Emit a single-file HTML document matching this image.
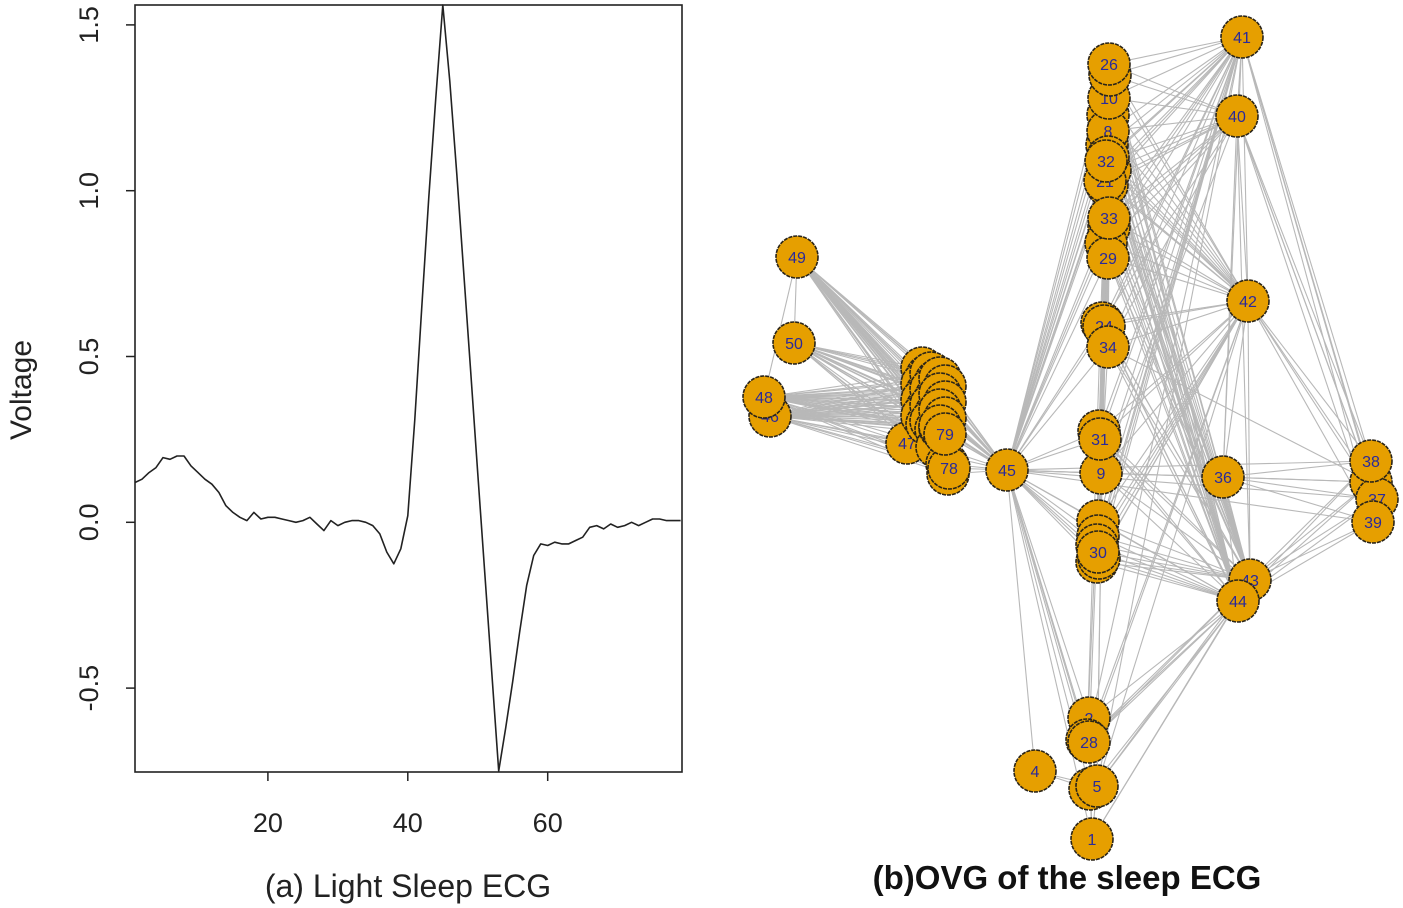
<!DOCTYPE html>
<html><head><meta charset="utf-8"><style>
html,body{margin:0;padding:0;background:#fff;}
svg{display:block;font-family:"Liberation Sans",Arial,sans-serif;}
</style></head><body>
<svg id="fig" width="1403" height="908" viewBox="0 0 1403 908">
<g id="left"></g>
<g id="right"></g>
<text x="408" y="897" font-size="32" text-anchor="middle" fill="#222">(a) Light Sleep ECG</text>
<text x="1067" y="889" font-size="33" font-weight="bold" text-anchor="middle" fill="#111">(b)OVG of the sleep ECG</text>
</svg>
<script>
const ecgVoltage = [0.12,0.13,0.15,0.165,0.195,0.19,0.20,0.20,0.17,0.15,0.13,0.115,0.09,0.05,0.03,0.015,0.005,0.03,0.01,0.015,0.015,0.01,0.005,0.0,0.005,0.015,-0.005,-0.025,0.005,-0.01,0.0,0.005,0.005,0.0,-0.01,-0.035,-0.09,-0.125,-0.08,0.02,0.31,0.65,0.98,1.28,1.56,1.33,1.05,0.75,0.45,0.15,-0.15,-0.45,-0.75,-0.62,-0.48,-0.33,-0.19,-0.10,-0.065,-0.07,-0.06,-0.065,-0.065,-0.055,-0.045,-0.015,-0.01,-0.02,-0.005,-0.015,-0.01,0.0,-0.01,0.0,0.01,0.01,0.005,0.005,0.005];
const xTicks = [20,40,60];
const yTicks = [-0.5,0,0.5,1.0,1.5];
const yTickLabels = ["-0.5","0.0","0.5","1.0","1.5"];

const NS="http://www.w3.org/2000/svg";
function mk(tag,attrs,parent){const e=document.createElementNS(NS,tag);for(const k in attrs)e.setAttribute(k,attrs[k]);parent.appendChild(e);return e;}
const L=document.getElementById('left');
const X0=135,X1=682,Y0=5,Y1=772;
const xd=[1,79.2], yd=[-0.753,1.56];
const sx=v=>X0+(v-xd[0])/(xd[1]-xd[0])*(X1-X0);
const sy=v=>Y1-(v-yd[0])/(yd[1]-yd[0])*(Y1-Y0);

let d="";
ecgVoltage.forEach((v,i)=>{d+=(i?"L":"M")+sx(i+1).toFixed(1)+","+sy(v).toFixed(1);});
const line=mk('path',{d:d,fill:'none',stroke:'#222','stroke-width':1.6,'stroke-linejoin':'round'},L);


const box=mk('rect',{x:X0,y:Y0,width:X1-X0,height:Y1-Y0,fill:'none',stroke:'#222','stroke-width':1.6},L);


xTicks.forEach(t=>{
  const x=sx(t);
  const tk=mk('line',{x1:x,x2:x,y1:Y1,y2:Y1+9,stroke:'#222','stroke-width':1.5},L);
  
  
  const lb=mk('text',{x:x,y:832,'font-size':27,'text-anchor':'middle',fill:'#222'},L);
  lb.textContent=t;
  
  
});
yTicks.forEach((t,i)=>{
  const y=sy(t);
  const tk=mk('line',{x1:X0-9,x2:X0,y1:y,y2:y,stroke:'#222','stroke-width':1.5},L);
  
  
  const lb=mk('text',{x:0,y:0,'font-size':27,'text-anchor':'middle',fill:'#222',transform:`translate(98,${y}) rotate(-90)`},L);
  lb.textContent=yTickLabels[i];
  
  
});
const yt=mk('text',{x:0,y:0,'font-size':30,'text-anchor':'middle',fill:'#222',transform:'translate(31,390) rotate(-90)'},L);
yt.textContent='Voltage';



const nodePos = {
 41:[1242,37],26:[1109,64],18:[1110,75],10:[1109,98],6:[1108,115],8:[1108,131],7:[1107,145],19:[1108,157],32:[1106,161],12:[1110,170],
 21:[1105,181],11:[1107,185],33:[1109,218],13:[1109,227],14:[1106,243],29:[1108,258],40:[1237,116],20:[1102,323],24:[1104,326],34:[1108,347],
 42:[1248,301],49:[797,257],50:[794,343],48:[764,397],46:[770,416],47:[907,443],72:[937,447],73:[940,428],75:[947,464],78:[949,468],76:[948,474],
 45:[1007,470],16:[1099,431],31:[1100,439],9:[1101,473],15:[1098,521],23:[1098,536],25:[1097,545],30:[1098,552],17:[1097,562],22:[1099,558],
 36:[1223,477],38:[1371,461],35:[1371,482],37:[1377,499],39:[1373,522],43:[1250,580],44:[1238,601],2:[1089,718],28:[1089,742],27:[1087,740],
 4:[1035,771],3:[1090,789],5:[1097,786],1:[1092,839]
};
const clusterIds=[51,52,53,54,55,56,57,58,59,60,61,62,63,64,65,66,67,68,69,70,71,74,77,79];
clusterIds.forEach((id,k)=>{
  const row=k%8, col=Math.floor(k/8);
  nodePos[id]=[922+col*9+(row%2)*5, 368+row*8+col*5];
});
const N=ecgVoltage.length;
const edges=[];
for(let a=0;a<N;a++){for(let b=a+1;b<N;b++){
  let ok=true;
  for(let c=a+1;c<b;c++){
    const lim=ecgVoltage[b]+(ecgVoltage[a]-ecgVoltage[b])*(b-c)/(b-a);
    if(ecgVoltage[c]>=lim){ok=false;break;}
  }
  if(ok)edges.push([a+1,b+1]);
}}
const R=document.getElementById('right');
const eg=mk('g',{stroke:'#b8b8b8','stroke-width':1.1},R);


edges.forEach(([a,b])=>{
  const p=nodePos[a],q=nodePos[b];if(!p||!q)return;
  const ln=mk('line',{x1:p[0],y1:p[1],x2:q[0],y2:q[1]},eg);
  
  
});
const ng=mk('g',{},R);


for(let i=1;i<=N;i++){
  const p=nodePos[i];if(!p)continue;
  const g=mk('g',{},ng);
  
  
  mk('circle',{cx:p[0],cy:p[1],r:21,fill:'#E69F00',stroke:'#2a2418','stroke-width':1.6,'stroke-dasharray':'4,1'},g);
  const t=mk('text',{x:p[0],y:p[1]+6,'font-size':16,'text-anchor':'middle',fill:'#2a2a9a'},g);
  t.textContent=i;
}
</script>
</body></html>
